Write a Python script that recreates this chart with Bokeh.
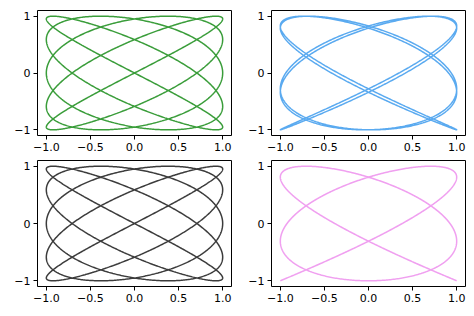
import numpy as np
from bokeh.plotting import figure
from bokeh.layouts import column, row
from bokeh.models import FixedTicker, Range1d
from bokeh.embed import file_html
from bokeh.resources import INLINE

# Lissajous parameters per panel: x = sin(fx*t + phase), y = sin(fy*t)
freq_x = [5, 5, 5, 5]
freq_y = [4, 4, 4, 4]
phase_x = [0.0, 9 * np.pi / 8 + 0.04, 0.0, 9 * np.pi / 8]
colors = ["#3a9d3a", "#5aaaf0", "#3c3c3c", "#f0a0f0"]
x_ticks = [-1.0, -0.5, 0.0, 0.5, 1.0]
x_tick_labels = ["−1.0", "−0.5", "0.0", "0.5", "1.0"]
y_ticks = [-1, 0, 1]
y_tick_labels = ["−1", "0", "1"]

t = np.linspace(0, 2 * np.pi, 2000)

# (width, height, left, right, top, bottom)
sizes = [
    (245, 157, 37, 14, 10, 22),
    (229, 157, 25, 9, 10, 22),
    (245, 159, 37, 14, 3, 30),
    (229, 159, 25, 9, 3, 30),
]

figs = []
for i in range(4):
    w, h, bl, br, bt, bb = sizes[i]
    p = figure(width=w, height=h, output_backend="svg", toolbar_location=None,
               x_range=Range1d(-1.1, 1.1), y_range=Range1d(-1.1, 1.1),
               min_border_left=bl, min_border_right=br,
               min_border_top=bt, min_border_bottom=bb)
    x = np.sin(freq_x[i] * t + phase_x[i])
    y = np.sin(freq_y[i] * t)
    p.line(x, y, line_color=colors[i], line_width=1.5)
    p.xgrid.visible = False
    p.ygrid.visible = False
    p.outline_line_color = "black"
    p.outline_line_width = 1
    p.background_fill_color = "white"
    p.border_fill_color = "white"
    p.xaxis.ticker = FixedTicker(ticks=x_ticks)
    p.yaxis.ticker = FixedTicker(ticks=y_ticks)
    p.xaxis.major_label_overrides = {k: v for k, v in zip(x_ticks, x_tick_labels)}
    p.yaxis.major_label_overrides = {k: v for k, v in zip(y_ticks, y_tick_labels)}
    for ax in (p.xaxis[0], p.yaxis[0]):
        ax.axis_line_color = None
        ax.major_tick_in = 0
        ax.major_tick_out = 4
        ax.major_tick_line_color = "black"
        ax.minor_tick_line_color = None
        ax.major_label_text_font = "DejaVu Sans"
        ax.major_label_text_font_size = "11px"
        ax.major_label_text_color = "black"
        ax.major_label_standoff = 3
    figs.append(p)

layout = column(row(figs[0], figs[1]), row(figs[2], figs[3]))
open("out.html", "w").write(file_html(layout, INLINE))
